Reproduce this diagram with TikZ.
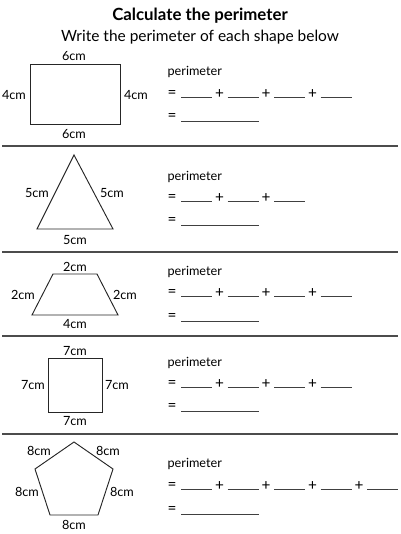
\documentclass[tikz,border=0pt]{standalone}
\usepackage{fontspec}
\setmainfont{Lato}
\usetikzlibrary{positioning}
\tikzstyle{lbl} = [font=\fontsize{9.5}{11}\selectfont, inner sep=1pt]
\tikzstyle{sym} = [font=\fontsize{11.5}{13}\selectfont, inner sep=1pt]
\tikzstyle{figline} = [draw=black!85, line width=0.7pt, line join=miter]
\tikzstyle{blank} = [draw=black!75, line width=0.6pt]
\tikzstyle{sep} = [draw=black!70, line width=1pt]

\begin{document}
\begin{tikzpicture}[x=0.75pt,y=-0.75pt]
  \useasboundingbox (0,0) rectangle (400,534);

  \node[font=\fontsize{12.6}{14}\selectfont\bfseries] (title) at (200,16) {Calculate the perimeter};
  \node[font=\fontsize{11.6}{14}\selectfont] (sub) at (200,37) {Write the perimeter of each shape below};

  % rectangle
  \coordinate (r1) at (30,64);  \coordinate (r2) at (120,64);
  \coordinate (r3) at (120,124); \coordinate (r4) at (30,124);
  \draw[figline] (r1) -- (r2) -- (r3) -- (r4) -- cycle;
  \node[lbl] (rt) at (74,56) {6cm};
  \node[lbl] (rb) at (74,134) {6cm};
  \node[lbl] (rl) at (14,95) {4cm};
  \node[lbl] (rr) at (136,95) {4cm};

  \node[lbl, anchor=west] (per1) at (166,72) {perimeter};
  \node[sym] (eqa1) at (172,94) {=};
  \foreach \i in {0,...,3} \draw[blank] (181+46.5*\i,97) -- +(31,0);
  \foreach \i in {0,...,2} \node[sym] (plusa\i) at (219.5+46.5*\i,94) {+};
  \node[sym] (eqb1) at (172,117) {=};
  \draw[blank] (181,121) -- (259,121);

  \coordinate (s1a) at (2,146); \coordinate (s1b) at (398,146);
  \draw[sep] (s1a) -- (s1b);

  % triangle
  \coordinate (t1) at (74,155); \coordinate (t2) at (113,229); \coordinate (t3) at (37,229);
  \draw[figline] (t1) -- (t2) -- (t3) -- cycle;
  \node[lbl] (tl) at (37,193) {5cm};
  \node[lbl] (tr) at (112,193) {5cm};
  \node[lbl] (tb) at (75,240) {5cm};

  \node[lbl, anchor=west] (per2) at (166,177) {perimeter};
  \node[sym] (eqa2) at (172,198) {=};
  \foreach \i in {0,...,2} \draw[blank] (181+46.5*\i,201) -- +(31,0);
  \foreach \i in {0,...,1} \node[sym] (plusb\i) at (219.5+46.5*\i,198) {+};
  \node[sym] (eqb2) at (172,221) {=};
  \draw[blank] (181,225) -- (259,225);

  \coordinate (s2a) at (2,252); \coordinate (s2b) at (398,252);
  \draw[sep] (s2a) -- (s2b);

  % trapezium
  \coordinate (z1) at (53,274); \coordinate (z2) at (97,274);
  \coordinate (z3) at (118,315); \coordinate (z4) at (32,315);
  \draw[figline] (z1) -- (z2) -- (z3) -- (z4) -- cycle;
  \node[lbl] (zt) at (75,267) {2cm};
  \node[lbl] (zl) at (23,295) {2cm};
  \node[lbl] (zr) at (125,295) {2cm};
  \node[lbl] (zb) at (75,324) {4cm};

  \node[lbl, anchor=west] (per3) at (166,272) {perimeter};
  \node[sym] (eqa3) at (172,293) {=};
  \foreach \i in {0,...,3} \draw[blank] (181+46.5*\i,296) -- +(31,0);
  \foreach \i in {0,...,2} \node[sym] (plusc\i) at (219.5+46.5*\i,293) {+};
  \node[sym] (eqb3) at (172,317) {=};
  \draw[blank] (181,321) -- (259,321);

  \coordinate (s3a) at (2,336); \coordinate (s3b) at (398,336);
  \draw[sep] (s3a) -- (s3b);

  % square
  \coordinate (q1) at (48,358); \coordinate (q2) at (102,358);
  \coordinate (q3) at (102,412); \coordinate (q4) at (48,412);
  \draw[figline] (q1) -- (q2) -- (q3) -- (q4) -- cycle;
  \node[lbl] (qt) at (75,351) {7cm};
  \node[lbl] (qb) at (75,421) {7cm};
  \node[lbl] (ql) at (33,385) {7cm};
  \node[lbl] (qr) at (117,385) {7cm};

  \node[lbl, anchor=west] (per4) at (166,363) {perimeter};
  \node[sym] (eqa4) at (172,384) {=};
  \foreach \i in {0,...,3} \draw[blank] (181+46.5*\i,387) -- +(31,0);
  \foreach \i in {0,...,2} \node[sym] (plusd\i) at (219.5+46.5*\i,384) {+};
  \node[sym] (eqb4) at (172,407) {=};
  \draw[blank] (181,411) -- (259,411);

  \coordinate (s4a) at (2,434); \coordinate (s4b) at (398,434);
  \draw[sep] (s4a) -- (s4b);

  % pentagon
  \coordinate (g1) at (74,442); \coordinate (g2) at (113,469);
  \coordinate (g3) at (98,515); \coordinate (g4) at (50,515);
  \coordinate (g5) at (35,469);
  \draw[figline] (g1) -- (g2) -- (g3) -- (g4) -- (g5) -- cycle;
  \node[lbl] (gtl) at (39,451) {8cm};
  \node[lbl] (gtr) at (108,451) {8cm};
  \node[lbl] (gl) at (27,492) {8cm};
  \node[lbl] (gr) at (122,492) {8cm};
  \node[lbl] (gb) at (74,525) {8cm};

  \node[lbl, anchor=west] (per5) at (166,464) {perimeter};
  \node[sym] (eqa5) at (172,486) {=};
  \foreach \i in {0,...,4} \draw[blank] (181+46.5*\i,489) -- +(31,0);
  \foreach \i in {0,...,3} \node[sym] (pluse\i) at (219.5+46.5*\i,486) {+};
  \node[sym] (eqb5) at (172,510) {=};
  \draw[blank] (181,514) -- (259,514);
\end{tikzpicture}
\end{document}
